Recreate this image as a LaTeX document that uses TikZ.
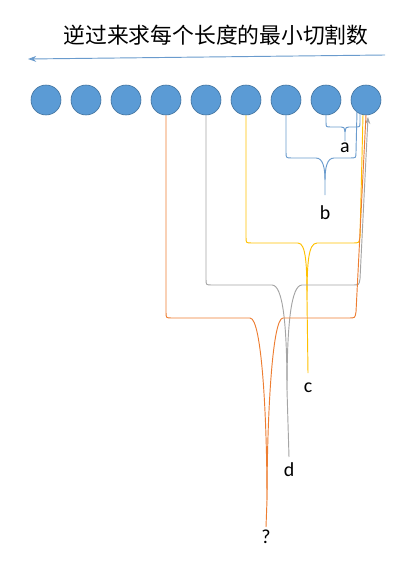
\documentclass[tikz,border=0pt]{standalone}
\usepackage{fontspec}
\setmainfont{Carlito}
\newfontfamily\cjk{Noto Sans CJK SC}
\usepackage[]{tikz}
\usetikzlibrary{arrows.meta}
\definecolor{dotblue}{HTML}{5B9BD5}
\definecolor{dotedge}{HTML}{41719C}
\definecolor{lineblue}{HTML}{6A9BCD}
\definecolor{lineyellow}{HTML}{FFC000}
\definecolor{linegray}{HTML}{A5A5A5}
\definecolor{lineorange}{HTML}{ED7D31}
\tikzset{dot/.style = {circle, fill=dotblue, draw=dotedge, line width=0.5pt, minimum size=30*0.03cm, inner sep=0}}
\tikzset{lbl/.style = {font=\fontsize{17}{20}\selectfont, inner sep=1pt, anchor=north}}
\tikzset{brace/.style = {line width=0.8pt}}

\begin{document}
\begin{tikzpicture}[x=0.03cm,y=-0.03cm]
        \useasboundingbox (0,0) rectangle (408,562);
        \node[font=\cjk\fontsize{18.6}{22}\selectfont] (title) at (216,35) {逆过来求每个长度的最小切割数};
        \coordinate (from) at (385,55);
        \coordinate (to) at (28,59);
        \draw [-{Stealth[length=7pt,width=5pt]},lineblue,line width=0.8pt] (from)--(to);
        \foreach \i in {1,...,9}
            \node[dot] (c\i) at (6+40*\i,100) {};
        \node[lbl] (la) at (345,141) {a};
        \node[lbl] (lb) at (325,204) {b};
        \node[lbl] (lc) at (308,381) {c};
        \node[lbl] (ld) at (289,461) {d};
        \node[lbl] (lq) at (266,528) {?};
        % a
        \draw [brace,lineblue] (c8.south) -- (326,122) .. controls (326,127) .. (331,127) -- (341,127) .. controls (344,127) .. (345,132) -- (la.north);
        \draw [brace,lineblue] (360,113) -- (360,122) .. controls (360,127) .. (355,127) -- (349,127) .. controls (346,127) .. (345,132);
        % b
        \draw [brace,lineblue] (c7.south) -- (286,152) .. controls (286,158) .. (292,158) -- (316,158) .. controls (323,158) and (325,168) .. (325,180) -- ([yshift=0.03cm*9]lb.north);
        \draw [brace,lineblue] (357,111) -- (356,152) .. controls (356,158) .. (350,158) -- (334,158) .. controls (327,158) and (325,168) .. (325,180);
        % c
        \draw [brace,lineyellow] (c6.south) -- (246,237) .. controls (246,243) .. (252,243) -- (298,243) .. controls (306,243) and (307,265) .. (307,300) -- ([yshift=0.03cm*8]lc.north);
        \draw [brace,lineyellow] (363,115) -- (360,237) .. controls (359,243) .. (353,243) -- (317,243) .. controls (308,243) and (307,265) .. (307,300);
        % d
        \draw [brace,linegray] (c5.south) -- (206,279) .. controls (206,285) .. (212,285) -- (272,285) .. controls (283,285) and (287,325) .. (287,390) -- ([yshift=0.03cm*4]ld.north);
        \draw [brace,linegray,-{Stealth[length=6pt,width=4.5pt]}] (287,390) .. controls (287,325) and (291,285) .. (302,285) -- (353,285) .. controls (359,285) .. (360,279) -- (368,117);
        % ?
        \draw [brace,lineorange] (c4.south) -- (166,312) .. controls (166,318) .. (172,318) -- (250,318) .. controls (262,318) and (267,420) .. (267,500) -- ([yshift=0.03cm*1]lq.north);
        \draw [brace,lineorange] (366,115) -- (356,312) .. controls (355,318) .. (349,318) -- (283,318) .. controls (272,318) and (267,420) .. (267,500);
    \end{tikzpicture}
\end{document}
